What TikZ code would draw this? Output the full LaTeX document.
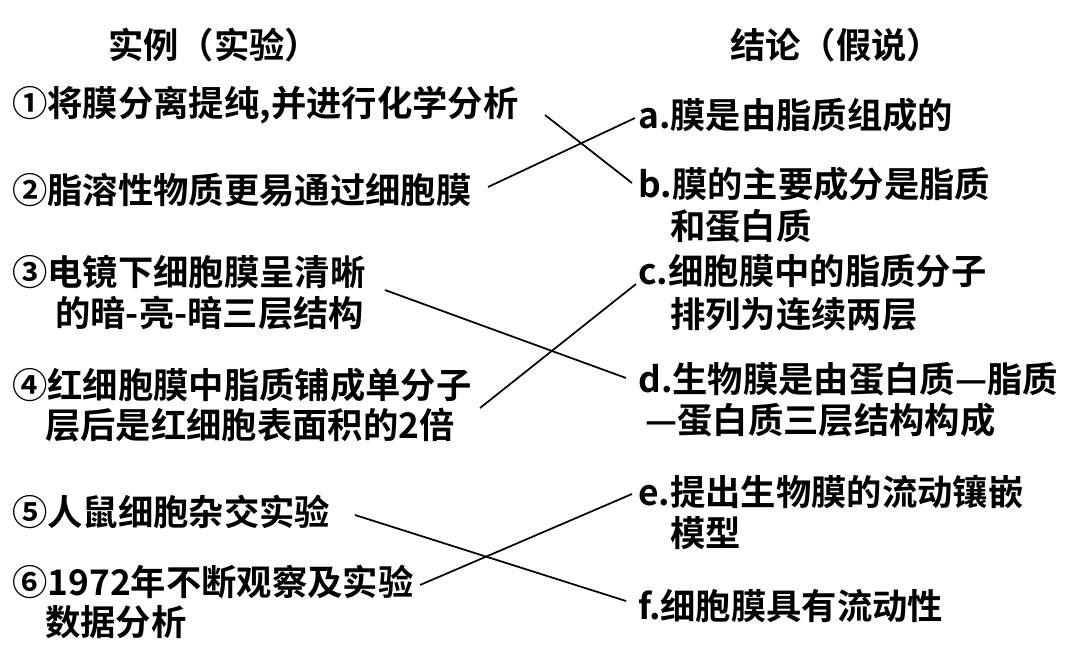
\documentclass[tikz,border=0pt]{standalone}
\usepackage{fontspec}
\newfontfamily\cjk{Noto Sans CJK SC}[BoldFont={* Bold}]
\begin{document}
\begin{tikzpicture}[x=0.75pt,y=-0.75pt,
  t/.style={anchor=west,inner sep=0pt,font=\cjk\bfseries\fontsize{26.5}{30}\selectfont},
  ln/.style={line width=1.3pt}]
\useasboundingbox (0,0) rectangle (1080,665);
\node[t] (h1) at (108,45) {实例（实验）};
\node[t] (h2) at (730,45) {结论（假说）};
\node[t] (l1) at (12,105) {①将膜分离提纯,并进行化学分析};
\node[t] (l2) at (12,190) {②脂溶性物质更易通过细胞膜};
\node[t] (l3) at (12,272) {③电镜下细胞膜呈清晰};
\node[t] (l3b) at (55,313) {的暗-亮-暗三层结构};
\node[t] (l4) at (12,385) {④红细胞膜中脂质铺成单分子};
\node[t] (l4b) at (45,425) {层后是红细胞表面积的2倍};
\node[t] (l5) at (12,512) {⑤人鼠细胞杂交实验};
\node[t] (l6) at (12,582) {⑥1972年不断观察及实验};
\node[t] (l6b) at (45,622) {数据分析};
\node[t] (ra) at (638,115) {a.膜是由脂质组成的};
\node[t] (rb) at (638,184) {b.膜的主要成分是脂质};
\node[t] (rb2) at (670,226) {和蛋白质};
\node[t] (rc) at (638,271) {c.细胞膜中的脂质分子};
\node[t] (rc2) at (670,314) {排列为连续两层};
\node[t] (rd) at (638,379) {d.生物膜是由蛋白质—脂质};
\node[t] (rd2) at (645,420) {—蛋白质三层结构构成};
\node[t] (re) at (638,492) {e.提出生物膜的流动镶嵌};
\node[t] (re2) at (670,533) {模型};
\node[t] (rf) at (638,606) {f.细胞膜具有流动性};
\coordinate (s1) at (545,115); \coordinate (e1) at (632,183);
\coordinate (s2) at (488,187); \coordinate (e2) at (635,118);
\coordinate (s3) at (385,290); \coordinate (e3) at (626,378);
\coordinate (s4) at (480,408); \coordinate (e4) at (636,284);
\coordinate (s5) at (355,515); \coordinate (e5) at (626,601);
\coordinate (s6) at (420,585); \coordinate (e6) at (632,494);
\foreach \i in {1,...,6} \draw[ln] (s\i) -- (e\i);
\end{tikzpicture}
\end{document}
